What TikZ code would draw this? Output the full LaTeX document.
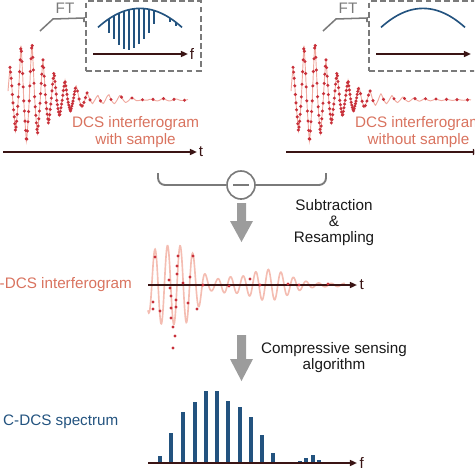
\documentclass[tikz,border=0pt]{standalone}
\usepackage{fontspec}
\setmainfont{Liberation Sans}
\usetikzlibrary{arrows.meta,calc}

\definecolor{dotred}{HTML}{C8303A}
\definecolor{wavepink}{HTML}{F0AAA0}
\definecolor{midpink}{HTML}{F4BDB2}
\definecolor{salmon}{HTML}{D9735F}
\definecolor{specblue}{HTML}{23537F}
\definecolor{axisdark}{HTML}{3A1414}
\definecolor{ftgray}{HTML}{7A7A7A}
\definecolor{arrowgray}{HTML}{9C9C9C}

\begin{document}
\begin{tikzpicture}[x=0.03cm,y=-0.03cm,
    declare function={
        sq(\u)=\u*\u;
        env(\x)=(\x<30)*62*exp(max(-20,-sq((\x-30)/25)))+(1-(\x<30))*62*exp(max(-20,-(\x-30)/30));
        osc(\x)=0.75*asin(cos(360*((\x-32)/11)))/90+0.25*cos(360*((\x-32)/11));
        sig(\x,\a)=env(\x)*osc(\x)+\a*(\x>75)*exp(max(-20,-(\x-75)/70))*sin(360*((\x-75)/14));
        wave(\x,\a)=100-sig(\x,\a)*(1-0.3*(sig(\x,\a)<0));
        arcy(\x)=8.4+19*sq((\x-140)/42);
        midamp(\x)=38*exp(max(-20,-sq(sq((\x-172)/30))))+5*exp(max(-20,-sq((\x-225)/15)))+14*exp(max(-20,-sq((\x-268)/28)))+1.5;
        mid(\x)=285-midamp(\x)*sin(360*((\x-151.8)/12.6));
    },
    axisline/.style={draw=axisdark,line width=1.5pt,-{Triangle[length=6pt,width=5pt]}},
    axislabel/.style={right,inner sep=1.5pt,text=axisdark,font={\fontsize{13}{14.5}\selectfont}},
    wavefaint/.style={draw=wavepink,line width=0.8pt},
    dot/.style={fill=dotred},
    insetbox/.style={draw=ftgray,line width=1.7pt,dash pattern=on 5pt off 2.8pt,
        minimum width=3.45cm,minimum height=2.1cm,inner sep=0pt},
    ftline/.style={draw=ftgray,line width=1.3pt},
    ftlabel/.style={text=ftgray,inner sep=0pt,font={\fontsize{13}{14.5}\selectfont}},
    specline/.style={draw=specblue,line width=1.4pt},
    salmontext/.style={text=salmon,inner sep=0pt,align=center,font={\fontsize{13}{14.5}\selectfont}},
    blacktext/.style={text=black!90,inner sep=0pt,align=center,font={\fontsize{13}{13.4}\selectfont}},
    bluetext/.style={text=specblue,inner sep=0pt,font={\fontsize{13}{14.5}\selectfont}},
    bracket/.style={draw=ftgray,line width=1.6pt},
    blockarrow/.style={fill=arrowgray},
    bar/.style={fill=specblue},
  ]

    \useasboundingbox (0,0) rectangle (474,474);

    %% Two DCS interferograms (with / without sample)
    \begin{scope}
        \clip (0,0) rectangle (474,474);
        \foreach \pname/\shiftx/\tailamp/\linetwo in {L/0/3/with sample,R/283/0/without sample} {
            \begin{scope}[shift={(\shiftx,0)}]
                % time axis
                \draw[axisline] (3,152) coordinate (tax\pname) -- (197,152) coordinate (tend\pname);
                % faint waveform and its samples
                \draw[wavefaint] plot[domain=8:188,samples=500] (\x,{wave(\x,\tailamp)});
                \foreach \t in {10,10.6,...,76}
                    \fill[dot] (\t,{wave(\t,\tailamp)}) circle[radius=1.7];
                \foreach \t in {77.5,79.1,...,88}
                    \fill[dot] (\t,{wave(\t,\tailamp)}) circle[radius=1.7];
                \foreach \t in {90,100.5,...,186}
                    \fill[dot] (\t,{wave(\t,\tailamp)}) circle[radius=1.7];
                % label
                \node[salmontext] (lab\pname) at (135.5,132.5) {DCS interferogram\\\linetwo};
                % inset spectrum
                \node[insetbox] (inset\pname) at (143.5,36) {};
                \draw[axisline] (93,54) coordinate (fax\pname) -- (188,54) coordinate (fend\pname);
                \draw[specline] plot[domain=98:182,samples=40] (\x,{arcy(\x)});
                % FT connector
                \coordinate (peak\pname) at (40,31);
                \draw[ftline] (peak\pname) -- ++(13,-12) -- ($(inset\pname.north west)+(-1,18)$) coordinate (ft\pname) -- ++(0,4);
                \node[ftlabel] (ftlab\pname) at (65,8) {FT};
            \end{scope}
        }
    \end{scope}
    % axis letters of the left panel (the right ones lie outside the picture)
    \node[axislabel] (tlabL) at (tendL) {t};
    \node[axislabel] (flabL) at (fendL) {f};

    % absorption lines in the inset with sample
    \foreach \lx/\ly in {109/33,114/39,119/45,124/49,129/50,134/48,139/44,144/39,149/33,154/24,170/22,176/26}
        \draw[specline,line width=1.2pt] (\lx,{arcy(\lx)}) -- (\lx,\ly);

    %% Subtraction
    \node[circle,draw=ftgray,line width=1.4pt,minimum size=0.84cm,inner sep=0pt] (minus) at (241,185) {};
    \draw[bracket,line width=2pt] ($(minus.center)+(-8,0)$) -- ($(minus.center)+(8,0)$);
    \draw[bracket,rounded corners=6pt] (158,173) -- (158,185) -- (minus.west);
    \draw[bracket,rounded corners=6pt] (minus.east) -- (326,185) -- (326,173);

    \coordinate (arr1) at (241.5,203);
    \fill[blockarrow] (arr1) ++(-4.5,0) -- ++(9,0) -- ++(0,18) -- ++(7,0) -- ++(-11.5,21) -- ++(-11.5,-21) -- ++(7,0) -- cycle;
    \node[blacktext] (subtr) at (334,222.5) {Subtraction\\\&\\Resampling};

    %% C-DCS interferogram
    \draw[draw=midpink,line width=1.4pt] plot[domain=148:345,samples=500] (\x,{mid(\x)});
    \draw[axisline] (148,285) coordinate (tmid) -- (357,285) node[axislabel] (tlabmid) {t};
    \foreach \sx/\sy in {155/257,153/302,153/309,160/311,169/280,170/288,171/296,171/308,171/318,
                         173/327,175/336,173/348,176/300,176/307,177/266,177/274,178/256,183/283,
                         188/303,190/277,193/256,197/309,203/285,229/286,250/279,260/285,288/284,
                         299/285,328/284}
        \fill[dot] (\sx,\sy) circle[radius=1.6];
    \node[salmontext,anchor=east] (cdcslab) at (132,285) {-DCS interferogram};

    %% Compressive sensing
    \coordinate (arr2) at (241.5,335);
    \fill[blockarrow] (arr2) ++(-4.5,0) -- ++(9,0) -- ++(0,24) -- ++(7,0) -- ++(-11.5,22) -- ++(-11.5,-22) -- ++(7,0) -- cycle;
    \node[blacktext] (csalg) at (334,357.5) {Compressive sensing\\algorithm};

    %% C-DCS spectrum
    \foreach \bx/\btop in {160/456,171/433,183/412,195/402,206/391,217/391,228/401,240/407,
                           251/417,262/435,273/453,300/461,306/458,313/455,319/460}
        \fill[bar] (\bx-2,463) rectangle (\bx+2,\btop);
    \draw[axisline] (148,463) coordinate (fspec) -- (357,463) node[axislabel] (flabspec) {f};
    \node[bluetext,anchor=west] (speclab) at (3,422) {C-DCS spectrum};

\end{tikzpicture}
\end{document}
